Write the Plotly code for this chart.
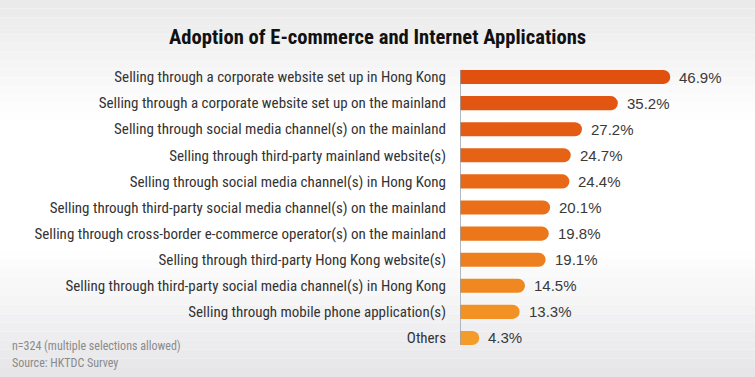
import plotly.graph_objects as go

categories = [
    "Selling through a corporate website set up in Hong Kong",
    "Selling through a corporate website set up on the mainland",
    "Selling through social media channel(s) on the mainland",
    "Selling through third-party mainland website(s)",
    "Selling through social media channel(s) in Hong Kong",
    "Selling through third-party social media channel(s) on the mainland",
    "Selling through cross-border e-commerce operator(s) on the mainland",
    "Selling through third-party Hong Kong website(s)",
    "Selling through third-party social media channel(s) in Hong Kong",
    "Selling through mobile phone application(s)",
    "Others",
]
values = [46.9, 35.2, 27.2, 24.7, 24.4, 20.1, 19.8, 19.1, 14.5, 13.3, 4.3]
bar_colors = ["#E0500F", "#E25611", "#E45C13", "#E66215", "#E86817", "#EA6F18",
              "#EC771B", "#EE7F1E", "#F08821", "#F29225", "#F49C29"]

title = "Adoption of E-commerce and Internet Applications"
note1 = "n=324 (multiple selections allowed)"
note2 = "Source: HKTDC Survey"

narrow = "Liberation Sans Narrow, Arial Narrow, Roboto Condensed, sans-serif"

W, H = 755, 377
L, R, T, B = 460, 26, 64, 26
PW, PH = W - L - R, H - T - B

def px_x(x):
    return (x - L) / PW

def px_y(y):
    return 1 - (y - T) / PH

fig = go.Figure()
fig.add_trace(go.Bar(
    x=values, y=categories, orientation="h",
    marker=dict(color=bar_colors, line=dict(width=0), cornerradius=7),
    width=0.54, hoverinfo="skip",
))

for v, c in zip(values, categories):
    fig.add_annotation(x=v, y=c, xref="x", yref="y", text=f"{v:.1f}%",
                       showarrow=False, xanchor="left", xshift=7,
                       font=dict(family="Liberation Sans, Arial, sans-serif", size=15, color="#3a3a3a"))

# background gradient bands
shapes = []
def mix(a, b, t):
    return "#%02x%02x%02x" % tuple(int(round(a[i] + (b[i] - a[i]) * t)) for i in range(3))
top_c, white, bot_c = (233, 233, 233), (255, 255, 255), (229, 229, 232)
n = 14
for i in range(n):
    ya, yb = i * 120 / n, (i + 1) * 120 / n
    shapes.append(dict(type="rect", xref="paper", yref="paper", x0=px_x(0), x1=px_x(W),
                       y0=px_y(yb), y1=px_y(ya),
                       fillcolor=mix(top_c, white, (i + 0.5) / n), line=dict(width=0), layer="below"))
for i in range(n):
    ya, yb = H - i * 127 / n, H - (i + 1) * 127 / n
    shapes.append(dict(type="rect", xref="paper", yref="paper", x0=px_x(0), x1=px_x(W),
                       y0=px_y(ya), y1=px_y(yb),
                       fillcolor=mix(bot_c, white, (i + 0.5) / n), line=dict(width=0), layer="below"))
# axis line
shapes.append(dict(type="line", xref="x", yref="y", x0=0, x1=0, y0=-0.27, y1=len(categories) - 1 + 0.27,
                   line=dict(color="#97a2ac", width=1.5)))

fig.update_layout(
    width=W, height=H,
    margin=dict(l=L, r=R, t=T, b=B, autoexpand=False),
    paper_bgcolor="#ffffff", plot_bgcolor="rgba(0,0,0,0)",
    showlegend=False,
    shapes=shapes,
    xaxis=dict(range=[0, 60], visible=False, fixedrange=True),
    yaxis=dict(autorange="reversed", showgrid=False, zeroline=False, showline=False,
               ticks="", ticklabelstandoff=13, automargin=False,
               tickfont=dict(family=narrow, size=15, color="#333333")),
)

fig.add_annotation(x=px_x(377), y=px_y(37), xref="paper", yref="paper", text=f"<b>{title}</b>",
                   showarrow=False, xanchor="center", yanchor="middle",
                   font=dict(family=narrow, size=20.6, color="#111111"))

for txt, ypix in [(note1, 346), (note2, 363)]:
    fig.add_annotation(x=px_x(10), xref="paper", y=px_y(ypix), yref="paper",
                       text=txt, showarrow=False, xanchor="left", yanchor="middle",
                       font=dict(family=narrow, size=12, color="#8a8a8a"))

fig.write_html("out.html", config={"displayModeBar": False},
               post_script="document.body.style.margin='0';")
